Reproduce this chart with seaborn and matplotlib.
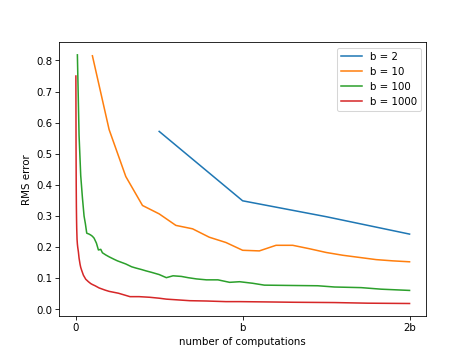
import matplotlib
matplotlib.use("Agg")
import matplotlib.pyplot as plt
import seaborn as sns
import pandas as pd

# x in units of b computations
x_b2 = [0.5, 1.0, 1.5, 2.0]
y_b2 = [0.572, 0.349, 0.298, 0.242]

x_b10 = [0.1, 0.2, 0.3, 0.4, 0.5, 0.6, 0.7, 0.8, 0.9, 1.0,
         1.1, 1.2, 1.3, 1.4, 1.5, 1.6, 1.7, 1.8, 1.9, 2.0]
y_b10 = [0.815, 0.578, 0.427, 0.334, 0.307, 0.270, 0.259, 0.232, 0.215, 0.190,
         0.188, 0.206, 0.206, 0.195, 0.183, 0.174, 0.167, 0.160, 0.156, 0.153]

x_b100 = [0.01, 0.02, 0.03, 0.04, 0.05, 0.058, 0.066, 0.08, 0.09, 0.10,
          0.11, 0.124, 0.136, 0.15, 0.16, 0.18, 0.20, 0.23,
          0.25, 0.275, 0.30, 0.335, 0.36, 0.395, 0.42, 0.455, 0.50, 0.543,
          0.583, 0.633, 0.673, 0.723, 0.783, 0.852, 0.922, 0.982, 1.06, 1.13,
          1.28, 1.45, 1.55, 1.71, 1.83, 2.0]
y_b100 = [0.818, 0.56, 0.43, 0.36, 0.30, 0.275, 0.245, 0.242, 0.239, 0.235,
          0.229, 0.213, 0.191, 0.193, 0.182, 0.175, 0.169, 0.161,
          0.156, 0.151, 0.146, 0.137, 0.133, 0.128, 0.124, 0.119, 0.112, 0.102,
          0.108, 0.106, 0.102, 0.098, 0.095, 0.095, 0.087, 0.089, 0.084, 0.078,
          0.077, 0.076, 0.072, 0.070, 0.065, 0.061]

x_b1000 = [0.001, 0.002, 0.003, 0.004, 0.005, 0.006, 0.008, 0.010, 0.012, 0.016,
           0.020, 0.026, 0.030, 0.036, 0.046, 0.060, 0.076, 0.090, 0.100, 0.116,
           0.140, 0.176, 0.200, 0.256, 0.300, 0.325, 0.380, 0.443, 0.500, 0.543,
           0.600, 0.683, 0.783, 0.900, 0.980, 1.15, 1.30, 1.55, 1.75, 2.0]
y_b1000 = [0.750, 0.520, 0.400, 0.330, 0.290, 0.260, 0.225, 0.210, 0.200, 0.185,
           0.165, 0.145, 0.135, 0.125, 0.110, 0.097, 0.089, 0.083, 0.080, 0.076,
           0.069, 0.062, 0.058, 0.052, 0.045, 0.041, 0.041, 0.039, 0.036, 0.033,
           0.031, 0.028, 0.027, 0.025, 0.025, 0.024, 0.023, 0.022, 0.020, 0.019]

labels = ["b = 2", "b = 10", "b = 100", "b = 1000"]
xticks = [0, 1, 2]
xtick_labels = ["0", "b", "2b"]

frames = []
for lab, xs, ys in zip(labels, [x_b2, x_b10, x_b100, x_b1000],
                       [y_b2, y_b10, y_b100, y_b1000]):
    frames.append(pd.DataFrame({"x": xs, "y": ys, "series": lab}))
df = pd.concat(frames, ignore_index=True)

fig, ax = plt.subplots(figsize=(6.4, 4.8), dpi=74)
sns.lineplot(data=df, x="x", y="y", hue="series", hue_order=labels,
             palette=["#1f77b4", "#ff7f0e", "#2ca02c", "#d62728"],
             linewidth=1.5, ax=ax, estimator=None, sort=True)
sns.move_legend(ax, "upper right", title=None)
ax.set_xticks(xticks)
ax.set_xticklabels(xtick_labels)
ax.set_xlabel("number of computations")
ax.set_ylabel("RMS error")
fig.savefig("out.png", dpi=74)
